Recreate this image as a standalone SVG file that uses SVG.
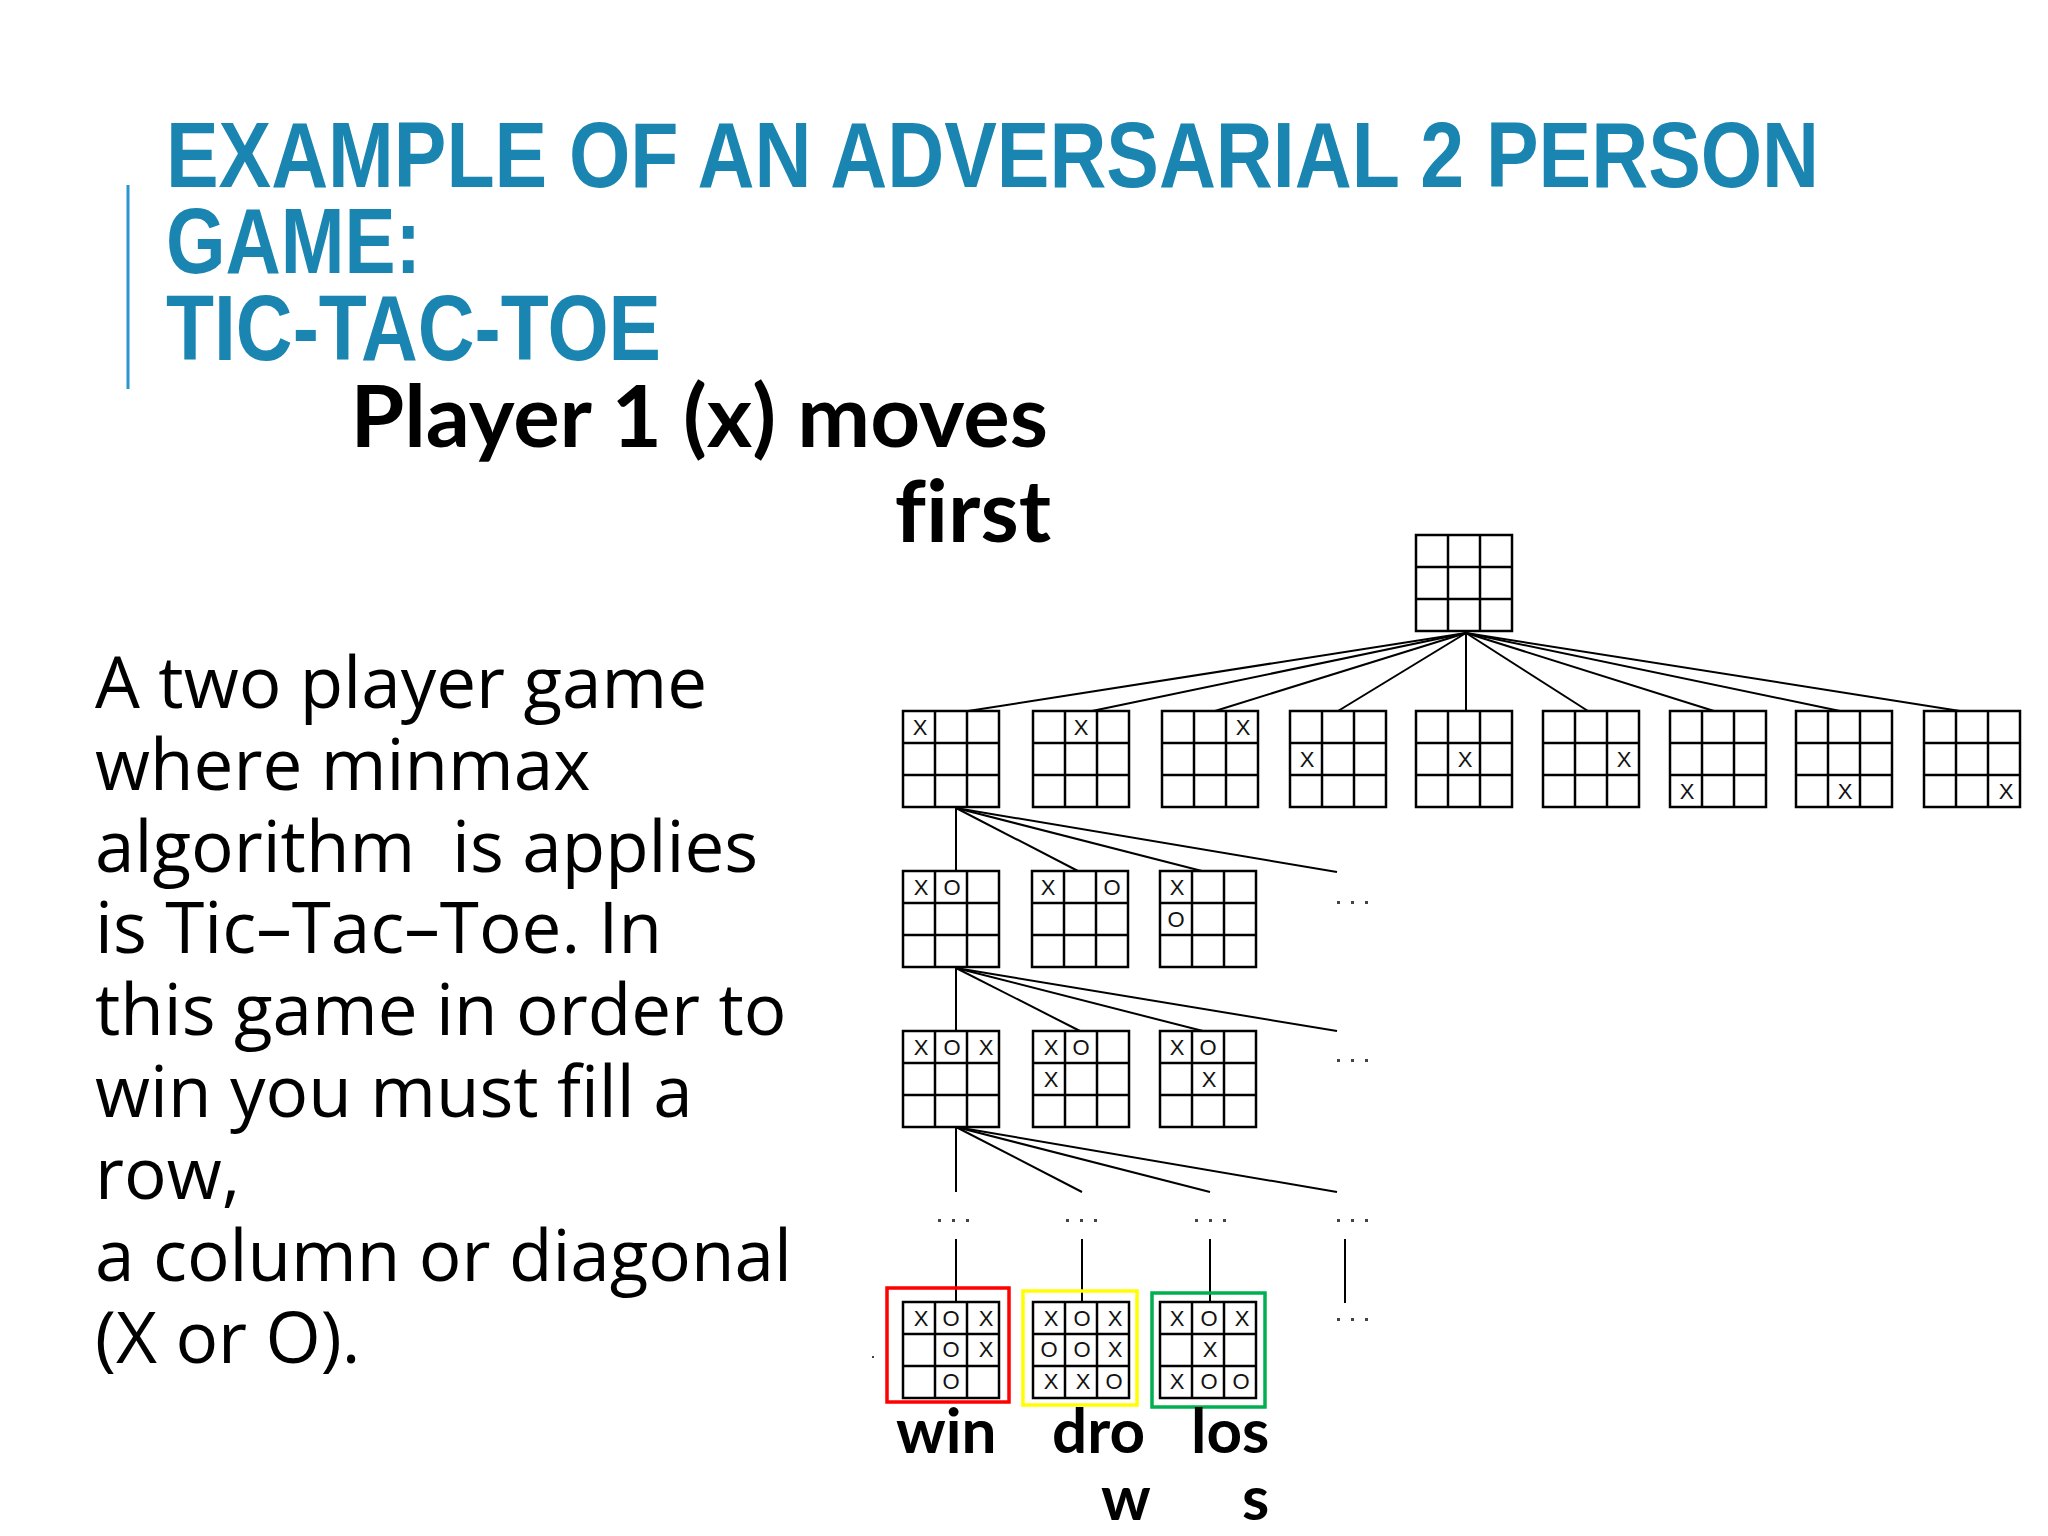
<svg xmlns="http://www.w3.org/2000/svg" xmlns:xlink="http://www.w3.org/1999/xlink" width="2048" height="1536" viewBox="0 0 2048 1536">
<style>
.title{font-family:"Liberation Sans",Arial,sans-serif;font-weight:bold;font-size:92px;fill:#1a85b0}
.body{font-family:"Open Sans","Noto Sans",sans-serif;font-size:71px;fill:#000;font-variant-ligatures:none}
.bold{font-family:Lato,"Open Sans",sans-serif;font-weight:bold;fill:#000;font-variant-ligatures:none}
.mk{font-family:"Liberation Sans",Arial,sans-serif;font-size:22px;fill:#111;text-anchor:middle}
.cn line{stroke:#000;stroke-width:2;fill:none}
.dot{fill:#444}
.frame{fill:none;stroke-width:3.5}
</style>
<defs>
<g id="grid" fill="none" stroke="#000" stroke-width="2.5">
<rect x="0" y="0" width="96" height="96" fill="#fff"/>
<line x1="32" y1="0" x2="32" y2="96"/>
<line x1="64" y1="0" x2="64" y2="96"/>
<line x1="0" y1="32" x2="96" y2="32"/>
<line x1="0" y1="64" x2="96" y2="64"/>
</g>
<g id="dots3" class="dot">
<rect x="0" y="0" width="3" height="3"/>
<rect x="14" y="0" width="3" height="3"/>
<rect x="28" y="0" width="3" height="3"/>
</g>
</defs>
<rect width="2048" height="1536" fill="#fff"/>

<g id="title">
<line x1="128" y1="185" x2="128" y2="389" stroke="#2a95cf" stroke-width="3"/>
<text class="title" x="166" y="187" textLength="1653" lengthAdjust="spacingAndGlyphs">EXAMPLE OF AN ADVERSARIAL 2 PERSON</text>
<text class="title" x="166" y="273" textLength="255" lengthAdjust="spacingAndGlyphs">GAME:</text>
<text class="title" x="166" y="360" textLength="495" lengthAdjust="spacingAndGlyphs">TIC-TAC-TOE</text>
</g>

<g id="subtitle">
<text class="bold" font-size="87" text-anchor="end"><tspan x="1048" y="447">Player 1 (x) moves</tspan><tspan x="1051" y="542">first</tspan></text>
</g>

<g id="description">
<text class="body" xml:space="preserve"><tspan x="95" y="708">A two player game</tspan><tspan x="95" y="790">where minmax</tspan><tspan x="95" y="872">algorithm  is applies</tspan><tspan x="95" y="953">is Tic–Tac–Toe. In</tspan><tspan x="95" y="1035">this game in order to</tspan><tspan x="95" y="1117">win you must fill a</tspan><tspan x="95" y="1199">row,</tspan><tspan x="95" y="1281">a column or diagonal</tspan><tspan x="95" y="1363">(X or O).</tspan></text>
</g>

<g id="connectors" class="cn">
<line x1="1466" y1="633" x2="968" y2="711"/>
<line x1="1466" y1="633" x2="1092" y2="711"/>
<line x1="1466" y1="633" x2="1215" y2="711"/>
<line x1="1466" y1="633" x2="1338" y2="711"/>
<line x1="1466" y1="633" x2="1466" y2="711"/>
<line x1="1466" y1="633" x2="1588" y2="711"/>
<line x1="1466" y1="633" x2="1714" y2="711"/>
<line x1="1466" y1="633" x2="1840" y2="711"/>
<line x1="1466" y1="633" x2="1960" y2="711"/>
<line x1="956" y1="808" x2="956" y2="871"/>
<line x1="956" y1="808" x2="1078" y2="871"/>
<line x1="956" y1="808" x2="1202" y2="871"/>
<line x1="956" y1="808" x2="1337" y2="872"/>
<line x1="956" y1="968" x2="956" y2="1031"/>
<line x1="956" y1="968" x2="1080" y2="1031"/>
<line x1="956" y1="968" x2="1203" y2="1031"/>
<line x1="956" y1="968" x2="1337" y2="1031"/>
<line x1="956" y1="1127" x2="956" y2="1192"/>
<line x1="956" y1="1127" x2="1082" y2="1192"/>
<line x1="956" y1="1127" x2="1210" y2="1192"/>
<line x1="956" y1="1127" x2="1337" y2="1192"/>
<line x1="956" y1="1239" x2="956" y2="1302"/>
<line x1="1082" y1="1239" x2="1082" y2="1302"/>
<line x1="1210" y1="1239" x2="1210" y2="1302"/>
<line x1="1345" y1="1239" x2="1345" y2="1303"/>
</g>

<g id="ellipses">
<use href="#dots3" x="1337" y="901"/>
<use href="#dots3" x="1337" y="1059"/>
<use href="#dots3" x="938" y="1219"/>
<use href="#dots3" x="1066" y="1219"/>
<use href="#dots3" x="1195" y="1219"/>
<use href="#dots3" x="1337" y="1219"/>
<use href="#dots3" x="1337" y="1318"/>
<rect class="dot" x="872" y="1356" width="2" height="2"/>
</g>

<g id="root"><use href="#grid" x="1416" y="535"/></g>

<g id="l1-1"><use href="#grid" x="903" y="711"/><text class="mk" x="920" y="735">X</text></g>
<g id="l1-2"><use href="#grid" x="1033" y="711"/><text class="mk" x="1081" y="735">X</text></g>
<g id="l1-3"><use href="#grid" x="1162" y="711"/><text class="mk" x="1243" y="735">X</text></g>
<g id="l1-4"><use href="#grid" x="1290" y="711"/><text class="mk" x="1307" y="767">X</text></g>
<g id="l1-5"><use href="#grid" x="1416" y="711"/><text class="mk" x="1465" y="767">X</text></g>
<g id="l1-6"><use href="#grid" x="1543" y="711"/><text class="mk" x="1624" y="767">X</text></g>
<g id="l1-7"><use href="#grid" x="1670" y="711"/><text class="mk" x="1687" y="799">X</text></g>
<g id="l1-8"><use href="#grid" x="1796" y="711"/><text class="mk" x="1845" y="799">X</text></g>
<g id="l1-9"><use href="#grid" x="1924" y="711"/><text class="mk" x="2006" y="799">X</text></g>

<g id="l2-1"><use href="#grid" x="903" y="871"/><text class="mk" x="921" y="895">X</text><text class="mk" x="952" y="895">O</text></g>
<g id="l2-2"><use href="#grid" x="1032" y="871"/><text class="mk" x="1048" y="895">X</text><text class="mk" x="1112" y="895">O</text></g>
<g id="l2-3"><use href="#grid" x="1160" y="871"/><text class="mk" x="1177" y="895">X</text><text class="mk" x="1176" y="927">O</text></g>

<g id="l3-1"><use href="#grid" x="903" y="1031"/><text class="mk" x="921" y="1055">X</text><text class="mk" x="952" y="1055">O</text><text class="mk" x="986" y="1055">X</text></g>
<g id="l3-2"><use href="#grid" x="1033" y="1031"/><text class="mk" x="1051" y="1055">X</text><text class="mk" x="1081" y="1055">O</text><text class="mk" x="1051" y="1087">X</text></g>
<g id="l3-3"><use href="#grid" x="1160" y="1031"/><text class="mk" x="1177" y="1055">X</text><text class="mk" x="1208" y="1055">O</text><text class="mk" x="1209" y="1087">X</text></g>

<g id="win">
<rect class="frame" x="887" y="1288" width="122" height="114" stroke="#ff0000"/>
<use href="#grid" x="903" y="1302"/>
<text class="mk" x="921" y="1326">X</text><text class="mk" x="951" y="1326">O</text><text class="mk" x="986" y="1326">X</text>
<text class="mk" x="951" y="1357">O</text><text class="mk" x="986" y="1357">X</text>
<text class="mk" x="951" y="1389">O</text>
<text class="bold" font-size="62" x="896" y="1453">win</text>
</g>
<g id="draw">
<rect class="frame" x="1023" y="1291" width="114" height="114" stroke="#ffff00"/>
<use href="#grid" x="1033" y="1302"/>
<text class="mk" x="1051" y="1326">X</text><text class="mk" x="1082" y="1326">O</text><text class="mk" x="1115" y="1326">X</text>
<text class="mk" x="1049" y="1357">O</text><text class="mk" x="1082" y="1357">O</text><text class="mk" x="1115" y="1357">X</text>
<text class="mk" x="1051" y="1389">X</text><text class="mk" x="1083" y="1389">X</text><text class="mk" x="1114" y="1389">O</text>
<text class="bold" font-size="62"><tspan x="1052" y="1453">dro</tspan><tspan x="1101" y="1520">w</tspan></text>
</g>
<g id="loss">
<rect class="frame" x="1152" y="1293" width="113" height="114" stroke="#00b050"/>
<use href="#grid" x="1160" y="1302"/>
<text class="mk" x="1177" y="1326">X</text><text class="mk" x="1209" y="1326">O</text><text class="mk" x="1242" y="1326">X</text>
<text class="mk" x="1210" y="1357">X</text>
<text class="mk" x="1177" y="1389">X</text><text class="mk" x="1209" y="1389">O</text><text class="mk" x="1241" y="1389">O</text>
<text class="bold" font-size="62"><tspan x="1191" y="1453">los</tspan><tspan x="1242" y="1520">s</tspan></text>
</g>
</svg>
